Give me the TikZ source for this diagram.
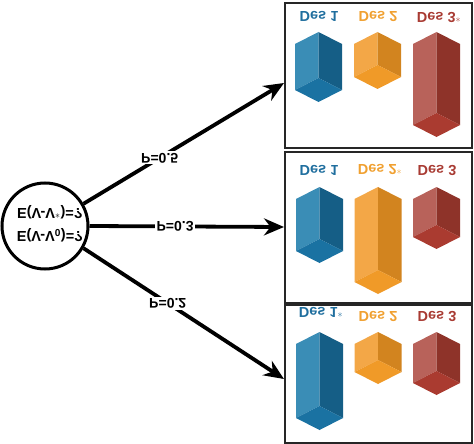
\documentclass[tikz,border=0pt]{standalone}
\usepackage{fontspec}
\setmainfont{Liberation Sans}
\usetikzlibrary{arrows.meta}
\newcommand\flip[1]{\scalebox{1}[-1]{#1}}
\definecolor{bL}{HTML}{3A8DB6}\definecolor{bR}{HTML}{155E86}\definecolor{bC}{HTML}{1A72A2}\definecolor{bT}{HTML}{1F6E9E}
\definecolor{oL}{HTML}{F3A747}\definecolor{oR}{HTML}{D2841F}\definecolor{oC}{HTML}{F09A28}\definecolor{oT}{HTML}{F0A030}
\definecolor{rL}{HTML}{B8625A}\definecolor{rR}{HTML}{8E3329}\definecolor{rC}{HTML}{AA3B30}\definecolor{rT}{HTML}{A83A32}
% cx, top vertex y, bottom shoulder y, prefix
\newcommand\prism[4]{%
  \fill[#4L] (#1,#2) -- ++(-23.5,12) -- (#1-23.5,#3) -- (#1,#3-12) -- cycle;
  \fill[#4R] (#1,#2) -- ++(23.5,12) -- (#1+23.5,#3) -- (#1,#3-12) -- cycle;
  \fill[#4C] (#1-23.5,#3) -- (#1,#3-12) -- (#1+23.5,#3) -- (#1,#3+12) -- cycle;}
\begin{document}
\begin{tikzpicture}[x=1pt,y=-1pt,
  panel/.style={draw=black!85,line width=2pt},
  lbl/.style={font=\bfseries\fontsize{14.5}{16}\selectfont,inner sep=0pt},
  plbl/.style={font=\bfseries\fontsize{14}{16}\selectfont,fill=white,inner sep=1.5pt},
  link/.style={line width=3.8pt,-{Stealth[length=20pt,width=17pt]}}]
\useasboundingbox (0,0) rectangle (474,444);
% panels
\node[panel,minimum width=187pt,minimum height=145pt,inner sep=0pt,anchor=north west] (b1) at (284,2) {};
\node[panel,minimum width=187pt,minimum height=151pt,inner sep=0pt,anchor=north west] (b2) at (284,151) {};
\node[panel,minimum width=187pt,minimum height=138pt,inner sep=0pt,anchor=north west] (b3) at (284,304) {};
% root
\node[draw,line width=3pt,circle,minimum size=86pt,inner sep=0pt] (root) at (45,226) {};
\node[font=\bfseries\fontsize{14.5}{20}\selectfont,align=center] (rt) at (50,224)
  {\flip{\begin{tabular}{@{}c@{}}E(V-V$_{\mathbf 0}$)=?\\[3pt]E(V-V$^{\mathbf *}$)=?\end{tabular}}};
% connectors
\coordinate (t1) at (284,83);
\coordinate (t2) at (284,227);
\coordinate (t3) at (284,379);
\draw[link] (root.30) -- (t1) node[plbl,pos=0.38] (p1) {\flip{P=0.5}};
\draw[link] (root.0) -- (t2) node[plbl,pos=0.44] (p2) {\flip{P=0.3}};
\draw[link] (root.-30) -- (t3) node[plbl,pos=0.42] (p3) {\flip{P=0.2}};
% panel 1
\prism{318.5}{32}{90}{b}\prism{377.5}{32}{77}{o}\prism{436.5}{32}{125}{r}
\node[lbl,text=bT] (d11) at (319,16) {\flip{Des 1}};
\node[lbl,text=oT] (d12) at (378,16) {\flip{Des 2}};
\node[lbl,text=rT] (d13) at (439,17) {\flip{Des 3$^{\mathbf *}$}};
% panel 2
\prism{319.5}{187}{251}{b}\prism{378}{187}{282}{o}\prism{436.5}{187}{237}{r}
\node[lbl,text=bT] (d21) at (319,170) {\flip{Des 1}};
\node[lbl,text=oT] (d22) at (380,169) {\flip{Des 2$^{\mathbf *}$}};
\node[lbl,text=rT] (d23) at (437,170) {\flip{Des 3}};
% panel 3
\prism{319.5}{332}{418}{b}\prism{378}{332}{372}{o}\prism{436.5}{332}{383}{r}
\node[lbl,text=bT] (d31) at (321,312) {\flip{Des 1$^{\mathbf *}$}};
\node[lbl,text=oT] (d32) at (378,316) {\flip{Des 2}};
\node[lbl,text=rT] (d33) at (437,316) {\flip{Des 3}};
\end{tikzpicture}
\end{document}
